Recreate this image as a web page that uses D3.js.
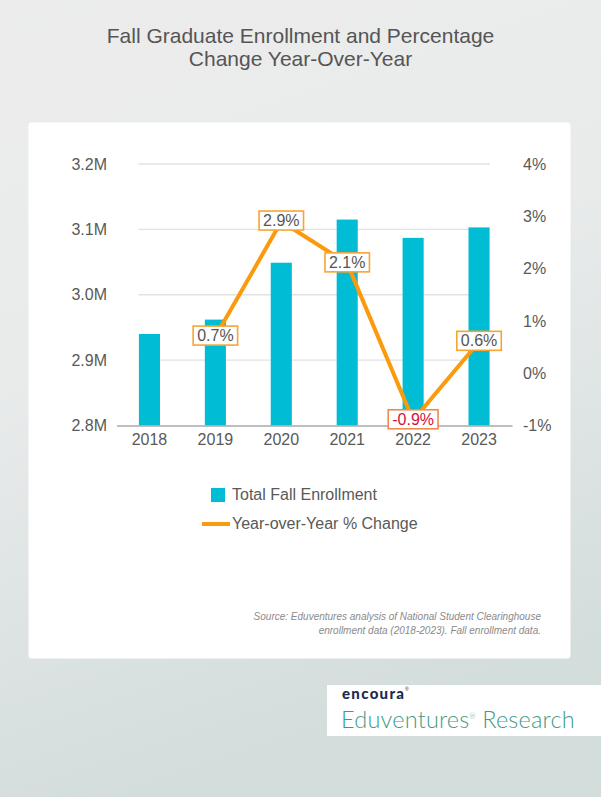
<!DOCTYPE html>
<html>
<head>
<meta charset="utf-8">
<script src="https://cdn.jsdelivr.net/npm/d3@7"></script>
<style>
  body { margin: 0; padding: 0; }
  svg { display: block; font-family: "Liberation Sans", Arial, sans-serif; }
</style>
</head>
<body>
<div id="container"></div>
<script>
// data
const years = ["2018", "2019", "2020", "2021", "2022", "2023"];
const enrollment = [2.940, 2.962, 3.049, 3.115, 3.087, 3.103]; // millions
const pctChange = [null, 0.7, 2.9, 2.1, -0.9, 0.6];
const leftTicks = [2.8, 2.9, 3.0, 3.1, 3.2];
const rightTicks = [-1, 0, 1, 2, 3, 4];

const w = 601;
const h = 797;

const svg = d3.select("#container")
              .append("svg")
              .attr("width", w)
              .attr("height", h);

// background gradient
const defs = svg.append("defs");
const grad = defs.append("linearGradient")
                 .attr("id", "bg")
                 .attr("x1", 0).attr("y1", 0)
                 .attr("x2", 0.25).attr("y2", 1);
grad.append("stop").attr("offset", "0%").attr("stop-color", "#ececec");
grad.append("stop").attr("offset", "45%").attr("stop-color", "#e9ebeb");
grad.append("stop").attr("offset", "100%").attr("stop-color", "#d3dddc");

svg.append("rect")
   .attr("width", w)
   .attr("height", h)
   .attr("fill", "url(#bg)");

// title
const title = svg.append("text")
   .attr("text-anchor", "middle")
   .attr("fill", "#555")
   .style("font-size", "21px");
title.append("tspan").attr("x", w / 2).attr("y", 43).text("Fall Graduate Enrollment and Percentage");
title.append("tspan").attr("x", w / 2).attr("y", 66).text("Change Year-Over-Year");

// card
svg.append("rect")
   .attr("x", 28.5)
   .attr("y", 122.5)
   .attr("width", 542)
   .attr("height", 536)
   .attr("rx", 3)
   .attr("fill", "#fff");

// scales
const xScale = d3.scaleBand()
                 .domain(years)
                 .range([116.5, 512])
                 .paddingInner(0.68)
                 .paddingOuter(0.34);
const yLeft = d3.scaleLinear()
                .domain([2.8, 3.2])
                .range([425.5, 164]);
const yRight = d3.scaleLinear()
                 .domain([-1, 4])
                 .range([425.5, 164]);

// gridlines
svg.append("g")
   .selectAll("line")
   .data(leftTicks.slice(1))
   .enter()
   .append("line")
   .attr("x1", xScale.range()[0] + 22)
   .attr("x2", 490)
   .attr("y1", (d) => yLeft(d))
   .attr("y2", (d) => yLeft(d))
   .attr("stroke", "#e2e2e2")
   .attr("stroke-width", 1.3);

// left axis
const yAxisL = d3.axisLeft(yLeft)
                 .tickValues(leftTicks)
                 .tickSize(0)
                 .tickPadding(0)
                 .tickFormat((d) => d.toFixed(1) + "M");
const gl = svg.append("g")
   .attr("transform", "translate(107, 0)")
   .call(yAxisL);
gl.select(".domain").remove();
gl.selectAll("text").attr("fill", "#595959").style("font-size", "16px")
  .attr("font-family", "'Liberation Sans', Arial, sans-serif");

// right axis
const yAxisR = d3.axisRight(yRight)
                 .tickValues(rightTicks)
                 .tickSize(0)
                 .tickPadding(0)
                 .tickFormat((d) => d + "%");
const gr = svg.append("g")
   .attr("transform", "translate(523, 0)")
   .call(yAxisR);
gr.select(".domain").remove();
gr.selectAll("text").attr("fill", "#595959").style("font-size", "16px")
  .attr("font-family", "'Liberation Sans', Arial, sans-serif");

// bars
svg.append("g")
   .selectAll("rect")
   .data(years)
   .enter()
   .append("rect")
   .attr("x", (d) => xScale(d))
   .attr("y", (d, i) => yLeft(enrollment[i]))
   .attr("width", xScale.bandwidth())
   .attr("height", (d, i) => yLeft(2.8) - yLeft(enrollment[i]))
   .attr("fill", "#00bcd4");

// x axis
const xAxis = d3.axisBottom(xScale).tickSize(0).tickPadding(8);
const gx = svg.append("g")
   .attr("transform", "translate(0, " + yLeft(2.8) + ")")
   .call(xAxis);
gx.select(".domain").attr("stroke", "#a8a8a8").attr("stroke-width", 1.6);
gx.selectAll("text").attr("fill", "#595959").style("font-size", "16px")
  .attr("font-family", "'Liberation Sans', Arial, sans-serif");

// line
const pts = years.map((y, i) => ({ year: y, v: pctChange[i] })).filter((d) => d.v !== null);
const cx = (d) => xScale(d.year) + xScale.bandwidth() / 2;
const line = d3.line()
               .x(cx)
               .y((d) => yRight(d.v));
svg.append("path")
   .datum(pts)
   .attr("d", line)
   .attr("fill", "none")
   .attr("stroke", "#fb9a0c")
   .attr("stroke-width", 4)
   .attr("stroke-linejoin", "round");

// data labels
const lab = svg.append("g")
   .selectAll("g")
   .data(pts)
   .enter()
   .append("g")
   .attr("transform", (d) => "translate(" + cx(d) + "," + (yRight(d.v) - 1) + ")");
lab.append("text")
   .attr("text-anchor", "middle")
   .attr("y", 5.5)
   .attr("fill", (d) => d.v < 0 ? "#d4103c" : "#555")
   .style("font-size", "16px")
   .text((d) => d.v.toFixed(1) + "%");
lab.insert("rect", "text")
   .each(function(d) {
       const tw = this.parentNode.querySelector("text").getComputedTextLength();
       d3.select(this)
         .attr("x", -tw / 2 - 4)
         .attr("width", tw + 8);
   })
   .attr("y", -9.5)
   .attr("height", 19)
   .attr("fill", "#fff")
   .attr("stroke", (d) => d.v < 0 ? "#ef8a4a" : "#f7a530")
   .attr("stroke-width", 1.6);

// legend
svg.append("rect")
   .attr("x", 211)
   .attr("y", 488)
   .attr("width", 14)
   .attr("height", 14)
   .attr("fill", "#00bcd4");
svg.append("text")
   .attr("x", 232)
   .attr("y", 500)
   .attr("fill", "#595959")
   .style("font-size", "16px")
   .text("Total Fall Enrollment");
svg.append("line")
   .attr("x1", 202)
   .attr("x2", 230)
   .attr("y1", 524)
   .attr("y2", 524)
   .attr("stroke", "#fb9a0c")
   .attr("stroke-width", 4);
svg.append("text")
   .attr("x", 232)
   .attr("y", 529)
   .attr("fill", "#595959")
   .style("font-size", "16px")
   .text("Year-over-Year % Change");

// source
const src = svg.append("text")
   .attr("text-anchor", "end")
   .attr("fill", "#8a8a8a")
   .style("font-size", "10px")
   .style("font-style", "italic");
src.append("tspan").attr("x", 541).attr("y", 620).text("Source: Eduventures analysis of National Student Clearinghouse");
src.append("tspan").attr("x", 541).attr("y", 634).text("enrollment data (2018-2023). Fall enrollment data.");

// logo
svg.append("rect")
   .attr("x", 327)
   .attr("y", 685)
   .attr("width", 274)
   .attr("height", 51)
   .attr("fill", "#fff");
svg.append("text")
   .attr("x", 342)
   .attr("y", 699)
   .attr("fill", "#1d2a4d")
   .style("font-family", "Lato, 'Noto Sans', sans-serif")
   .style("font-weight", "900")
   .style("font-size", "15px")
   .attr("textLength", 62)
   .text("encoura");
svg.append("text")
   .attr("x", 405)
   .attr("y", 691)
   .attr("fill", "#1d2a4d")
   .style("font-size", "5px")
   .text("®");
const edu = svg.append("text")
   .attr("x", 341)
   .attr("y", 728)
   .attr("fill", "#3f9b89")
   .style("font-family", "Lato, 'Noto Sans', sans-serif")
   .style("font-weight", "300")
   .style("font-size", "23.5px")
   .style("letter-spacing", "0.2px");
edu.append("tspan").text("Eduventures");
edu.append("tspan").attr("dy", -9).style("font-size", "7px").text("®");
edu.append("tspan").attr("dy", 9).text(" Research");
</script>
</body>
</html>
